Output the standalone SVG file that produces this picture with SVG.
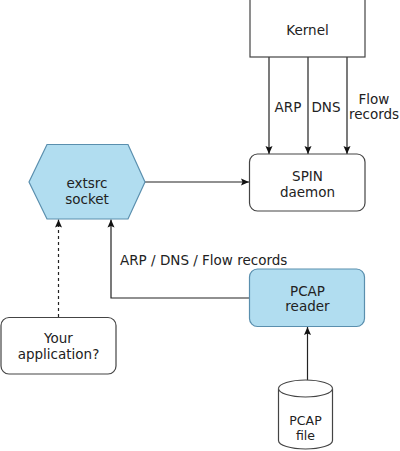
<svg xmlns="http://www.w3.org/2000/svg" width="400" height="451" viewBox="0 0 400 451">
<style>
text{font-family:"DejaVu Sans","Liberation Sans",sans-serif;font-size:13.5px;fill:#222;text-anchor:middle}
.box{fill:#fff;stroke:#444;stroke-width:1.2}
.blue{fill:#b1ddf0;stroke:#5a8fae;stroke-width:1.2}
.conn{fill:none;stroke:#222;stroke-width:1.2}
.dash{stroke-dasharray:3 3}
</style>
<defs>
<marker id="arr" markerUnits="userSpaceOnUse" markerWidth="10" markerHeight="10" viewBox="0 0 10 10" refX="9" refY="5" orient="auto">
<path d="M1,1.5 L9,5 L1,8.5 L2.5,5 Z" fill="#111"/>
</marker>
</defs>
<rect width="400" height="451" fill="#fff"/>
<g id="connectors">
<path class="conn" d="M269,57 V154" marker-end="url(#arr)"/>
<path class="conn" d="M308,57 V154" marker-end="url(#arr)"/>
<path class="conn" d="M347,57 V154" marker-end="url(#arr)"/>
<path class="conn" d="M145,182 H249" marker-end="url(#arr)"/>
<path class="conn" d="M249,298 H111 V219.5" marker-end="url(#arr)"/>
<path class="conn dash" d="M58.5,317 V219.5" marker-end="url(#arr)"/>
<path class="conn" d="M307.5,380 V327" marker-end="url(#arr)"/>
<text x="288" y="111.5">ARP</text>
<text x="326" y="111.5">DNS</text>
<text x="374" y="104">Flow</text>
<text x="374" y="118.5">records</text>
<text x="120" y="265" style="text-anchor:start">ARP / DNS / Flow records</text>
</g>
<g id="kernel">
<rect class="box" x="250" y="-1" width="115" height="58"/>
<text x="307.5" y="35">Kernel</text>
</g>
<g id="spin">
<rect class="box" x="249.5" y="154" width="115.5" height="57" rx="8"/>
<text x="307.5" y="181">SPIN</text>
<text x="307.5" y="196.5">daemon</text>
</g>
<g id="extsrc">
<polygon class="blue" points="29,182 47,144.5 128,144.5 145,182 128,219 47,219"/>
<text x="87" y="187.5">extsrc</text>
<text x="87" y="204">socket</text>
</g>
<g id="pcapreader">
<rect class="blue" x="249.5" y="269" width="115" height="57.5" rx="8"/>
<text x="307.5" y="295.5">PCAP</text>
<text x="307.5" y="311">reader</text>
</g>
<g id="app">
<rect class="box" x="1" y="317.5" width="115" height="56.5" rx="8"/>
<text x="58.5" y="343">Your</text>
<text x="58.5" y="359">application?</text>
</g>
<g id="pcapfile">
<path class="box" d="M278.5,388.5 A27,8.5 0 0 1 332.5,388.5 V440.5 A27,8.5 0 0 1 278.5,440.5 Z"/>
<path class="box" d="M278.5,388.5 A27,8.5 0 0 0 332.5,388.5" fill="none"/>
<text x="305.5" y="425" style="font-size:12.5px">PCAP</text>
<text x="305.5" y="439.5" style="font-size:12.5px">file</text>
</g>
</svg>
